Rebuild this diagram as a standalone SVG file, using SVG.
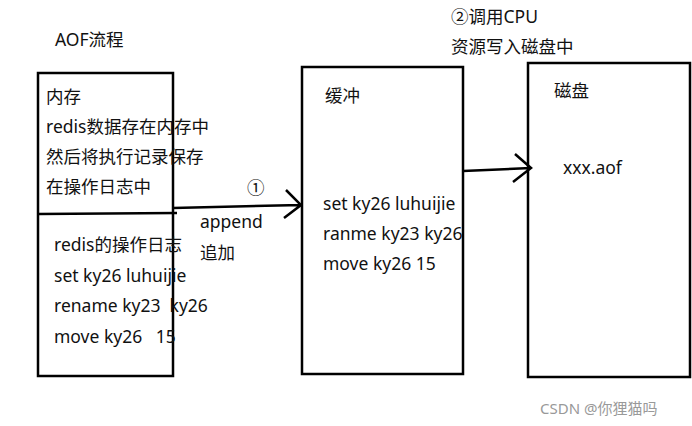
<svg xmlns="http://www.w3.org/2000/svg" width="692" height="426" viewBox="0 0 692 426">
<style>
text{font-family:"Noto Sans","Noto Sans CJK SC",sans-serif;font-size:17.5px;fill:#111;white-space:pre}
.box{fill:none;stroke:#000;stroke-width:2.5}
.ln{stroke:#000;stroke-width:2.5;fill:none}
</style>
<rect width="692" height="426" fill="#fff"/>
<text x="55" y="46">AOF流程</text>
<g id="memory">
<rect class="box" x="38" y="73" width="135" height="303"/>
<line class="ln" x1="38" y1="214" x2="177" y2="213"/>
<text x="46" y="103">内存</text>
<text x="46" y="133">redis数据存在内存中</text>
<text x="46" y="163">然后将执行记录保存</text>
<text x="46" y="193">在操作日志中</text>
<text x="54" y="251">redis的操作日志</text>
<text x="54" y="282">set ky26 luhuijie</text>
<text x="54" y="312">rename ky23  ky26</text>
<text x="54" y="343">move ky26   15</text>
</g>
<g id="buffer">
<rect class="box" x="302" y="67" width="161" height="307"/>
<text x="325" y="102">缓冲</text>
<text x="323" y="210">set ky26 luhuijie</text>
<text x="323" y="240">ranme ky23 ky26</text>
<text x="323" y="270">move ky26 15</text>
</g>
<g id="disk">
<rect class="box" x="528" y="63" width="162" height="314"/>
<text x="554" y="97">磁盘</text>
<text x="563" y="174">xxx.aof</text>
</g>
<g id="connectors">
<path class="ln" d="M173 208 L301 205 M286 190 L301 205 L284 218"/>
<path class="ln" d="M463 171 L531 168 M515 154 L531 168 L513 182"/>
<text x="247" y="194">①</text>
<text x="200" y="228">append</text>
<text x="200" y="259">追加</text>
<text x="451" y="23">②调用CPU</text>
<text x="451" y="53">资源写入磁盘中</text>
</g>
<text x="540" y="414" style="fill:#999;font-size:15px">CSDN @你狸猫吗</text>
</svg>
